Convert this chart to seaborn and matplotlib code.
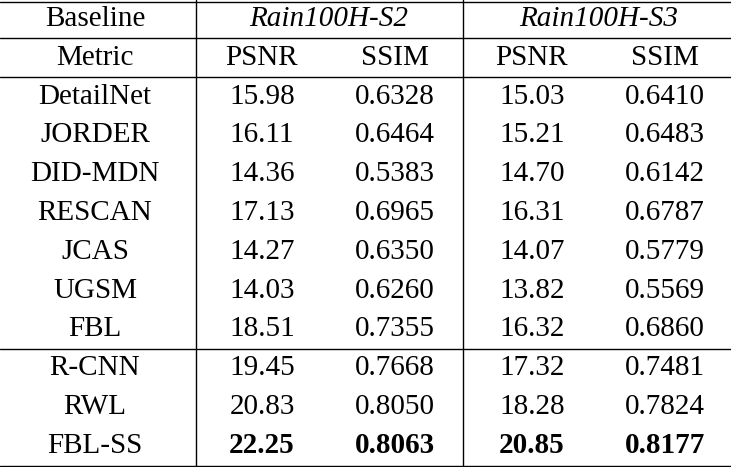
import matplotlib
matplotlib.use("Agg")
import matplotlib.pyplot as plt
import seaborn as sns

sns.set_theme(style="white")
plt.rcParams['font.family'] = ['Liberation Serif', 'DejaVu Serif']

methods = ["DetailNet", "JORDER", "DID-MDN", "RESCAN", "JCAS", "UGSM", "FBL", "R-CNN", "RWL", "FBL-SS"]
s2_psnr = ["15.98", "16.11", "14.36", "17.13", "14.27", "14.03", "18.51", "19.45", "20.83", "22.25"]
s2_ssim = ["0.6328", "0.6464", "0.5383", "0.6965", "0.6350", "0.6260", "0.7355", "0.7668", "0.8050", "0.8063"]
s3_psnr = ["15.03", "15.21", "14.70", "16.31", "14.07", "13.82", "16.32", "17.32", "18.28", "20.85"]
s3_ssim = ["0.6410", "0.6483", "0.6142", "0.6787", "0.5779", "0.5569", "0.6860", "0.7481", "0.7824", "0.8177"]
datasets = ["Rain100H-S2", "Rain100H-S3"]
metrics = ["PSNR", "SSIM", "PSNR", "SSIM"]

W, H = 731, 467
fig = plt.figure(figsize=(W/100, H/100), dpi=100)
ax = fig.add_axes([0, 0, 1, 1])
ax.set_xlim(0, W); ax.set_ylim(H, 0); ax.axis('off')

fs = 21
colx = [95, 262, 395, 532, 665]
step = 38.8
rowy = [19 + step * i for i in range(12)]

kw = dict(ha='center', va='center', fontsize=fs, color='black')
ax.text(colx[0], rowy[0], "Baseline", **kw)
ax.text((colx[1]+colx[2])/2, rowy[0], datasets[0], style='italic', **kw)
ax.text((colx[3]+colx[4])/2, rowy[0], datasets[1], style='italic', **kw)
ax.text(colx[0], rowy[1], "Metric", **kw)
for x, m in zip(colx[1:], metrics):
    ax.text(x, rowy[1], m, **kw)
for i, name in enumerate(methods):
    y = rowy[2 + i]
    w = 'bold' if i == len(methods) - 1 else 'normal'
    ax.text(colx[0], y, name, **kw)
    for x, v in zip(colx[1:], [s2_psnr[i], s2_ssim[i], s3_psnr[i], s3_ssim[i]]):
        ax.text(x, y, v, fontweight=w, **kw)

lw = 1.0
ax.plot([0, W], [1.5, 1.5], color='black', lw=lw)
ax.plot([0, W], [(rowy[0]+rowy[1])/2, (rowy[0]+rowy[1])/2], color='black', lw=lw)
ax.plot([0, W], [(rowy[1]+rowy[2])/2, (rowy[1]+rowy[2])/2], color='black', lw=lw)
ax.plot([0, W], [(rowy[8]+rowy[9])/2, (rowy[8]+rowy[9])/2], color='black', lw=lw)
ax.plot([0, W], [H-1.5, H-1.5], color='black', lw=lw)
ax.plot([196, 196], [0, H], color='black', lw=lw)
ax.plot([463, 463], [0, H], color='black', lw=lw)

fig.savefig("out.png", dpi=100)
